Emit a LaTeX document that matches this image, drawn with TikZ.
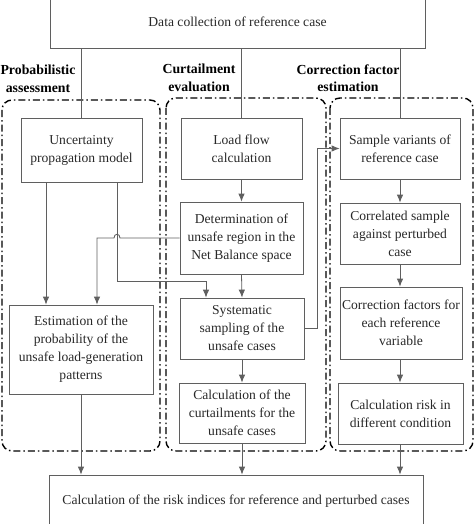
\documentclass[tikz,border=0pt]{standalone}
\usepackage{fontspec}
\setmainfont{Liberation Serif}
\usetikzlibrary{arrows.meta,calc}
\definecolor{lc}{RGB}{95,95,95}
\definecolor{tc}{RGB}{40,40,40}
\begin{document}
\begin{tikzpicture}[x=1pt,y=-1pt,
 box/.style={draw=lc, line width=0.8pt, align=center, inner sep=0pt, font=\fontsize{13.6}{18}\selectfont, text=tc},
 grp/.style={draw=black, line width=1.4pt, rounded corners=10pt, dash pattern=on 7pt off 3pt on 1.5pt off 3pt},
 lab/.style={align=center, text=black, font=\bfseries\fontsize{13.8}{17.5}\selectfont},
 ln/.style={draw=lc, line width=0.8pt},
 arr/.style={ln, -{Latex[length=8pt,width=6.5pt]}}]
\useasboundingbox (0,0) rectangle (474,524);

% group frames
\draw[grp] (2,100) rectangle (160,451);
\draw[grp] (166,98) rectangle (326,451);
\draw[grp] (330,98) rectangle (473,451);

% labels
\node[lab] (l1) at (38,79) {Probabilistic\\assessment};
\node[lab] (l2) at (199,78) {Curtailment\\evaluation};
\node[lab] (l3) at (348,78) {Correction factor\\estimation};

% boxes
\node[box, minimum width=375pt, minimum height=52pt] (top) at (237.5,22) {Data collection of reference case};
\node[box, minimum width=374pt, minimum height=52pt] (bot) at (236,501) {Calculation of the risk indices for reference and perturbed cases};

\node[box, minimum width=121pt, minimum height=64pt] (unc) at (81.5,150) {Uncertainty\\propagation model};
\node[box, minimum width=144pt, minimum height=89pt] (est) at (81,349.5) {Estimation of the\\probability of the\\unsafe load-generation\\patterns};

\node[box, minimum width=121pt, minimum height=61pt] (lf) at (241.5,148.5) {Load flow\\calculation};
\node[box, minimum width=123pt, minimum height=72pt] (det) at (241.5,238) {Determination of\\unsafe region in the\\Net Balance space};
\node[box, minimum width=124pt, minimum height=61pt] (sys) at (242,328.5) {Systematic\\sampling of the\\unsafe cases};
\node[box, minimum width=126pt, minimum height=60pt] (cur) at (242,413) {Calculation of the\\curtailments for the\\unsafe cases};

\node[box, minimum width=120pt, minimum height=61pt] (sam) at (400,148.5) {Sample variants of\\reference case};
\node[box, minimum width=120pt, minimum height=61pt] (cor) at (400,233.5) {Correlated sample\\against perturbed\\case};
\node[box, minimum width=122pt, minimum height=72pt] (cf) at (401,323) {Correction factors for\\each reference\\variable};
\node[box, minimum width=125pt, minimum height=61pt] (risk) at (400.5,413.5) {Calculation risk in\\different condition};

% helper coordinates
\coordinate (a46) at (46,0);
\coordinate (k1) at (117,281);
\coordinate (k2) at (206,281);
\coordinate (h1) at (97,238);
\coordinate (v) at (317,0);

% connectors from top
\draw[ln] (top.south -| unc.north) -- (unc.north);
\draw[ln] (top.south -| lf.north) -- (lf.north);
\draw[ln] (top.south -| sam.north) -- (sam.north);

% left column
\draw[arr] (unc.south -| a46) -- (est.north -| a46);
\draw[arr] (unc.south -| k1) -- (k1) -- (k2) -- (sys.north -| k2);
\draw[arr] (det.west) -- (120,238) .. controls (120,233) and (114,233) .. (114,238) -- (h1) -- (est.north -| h1);
\draw[arr] (est.south) -- (est.south |- bot.north);

% middle column
\draw[arr] (lf.south) -- (det.north);
\draw[arr] (det.south) -- (sys.north);
\draw[arr] (sys.south) -- (cur.north);
\draw[arr] (cur.south) -- (cur.south |- bot.north);
\draw[arr] (sys.east) -- (sys.east -| v) -- (v |- sam.west) -- (sam.west);

% right column
\draw[arr] (sam.south) -- (cor.north);
\draw[arr] (cor.south) -- (cf.north -| cor.south);
\draw[arr] (cf.south -| cor.south) -- (risk.north -| cor.south);
\draw[arr] (risk.south -| cor.south) -- (cor.south |- bot.north);
\end{tikzpicture}
\end{document}
